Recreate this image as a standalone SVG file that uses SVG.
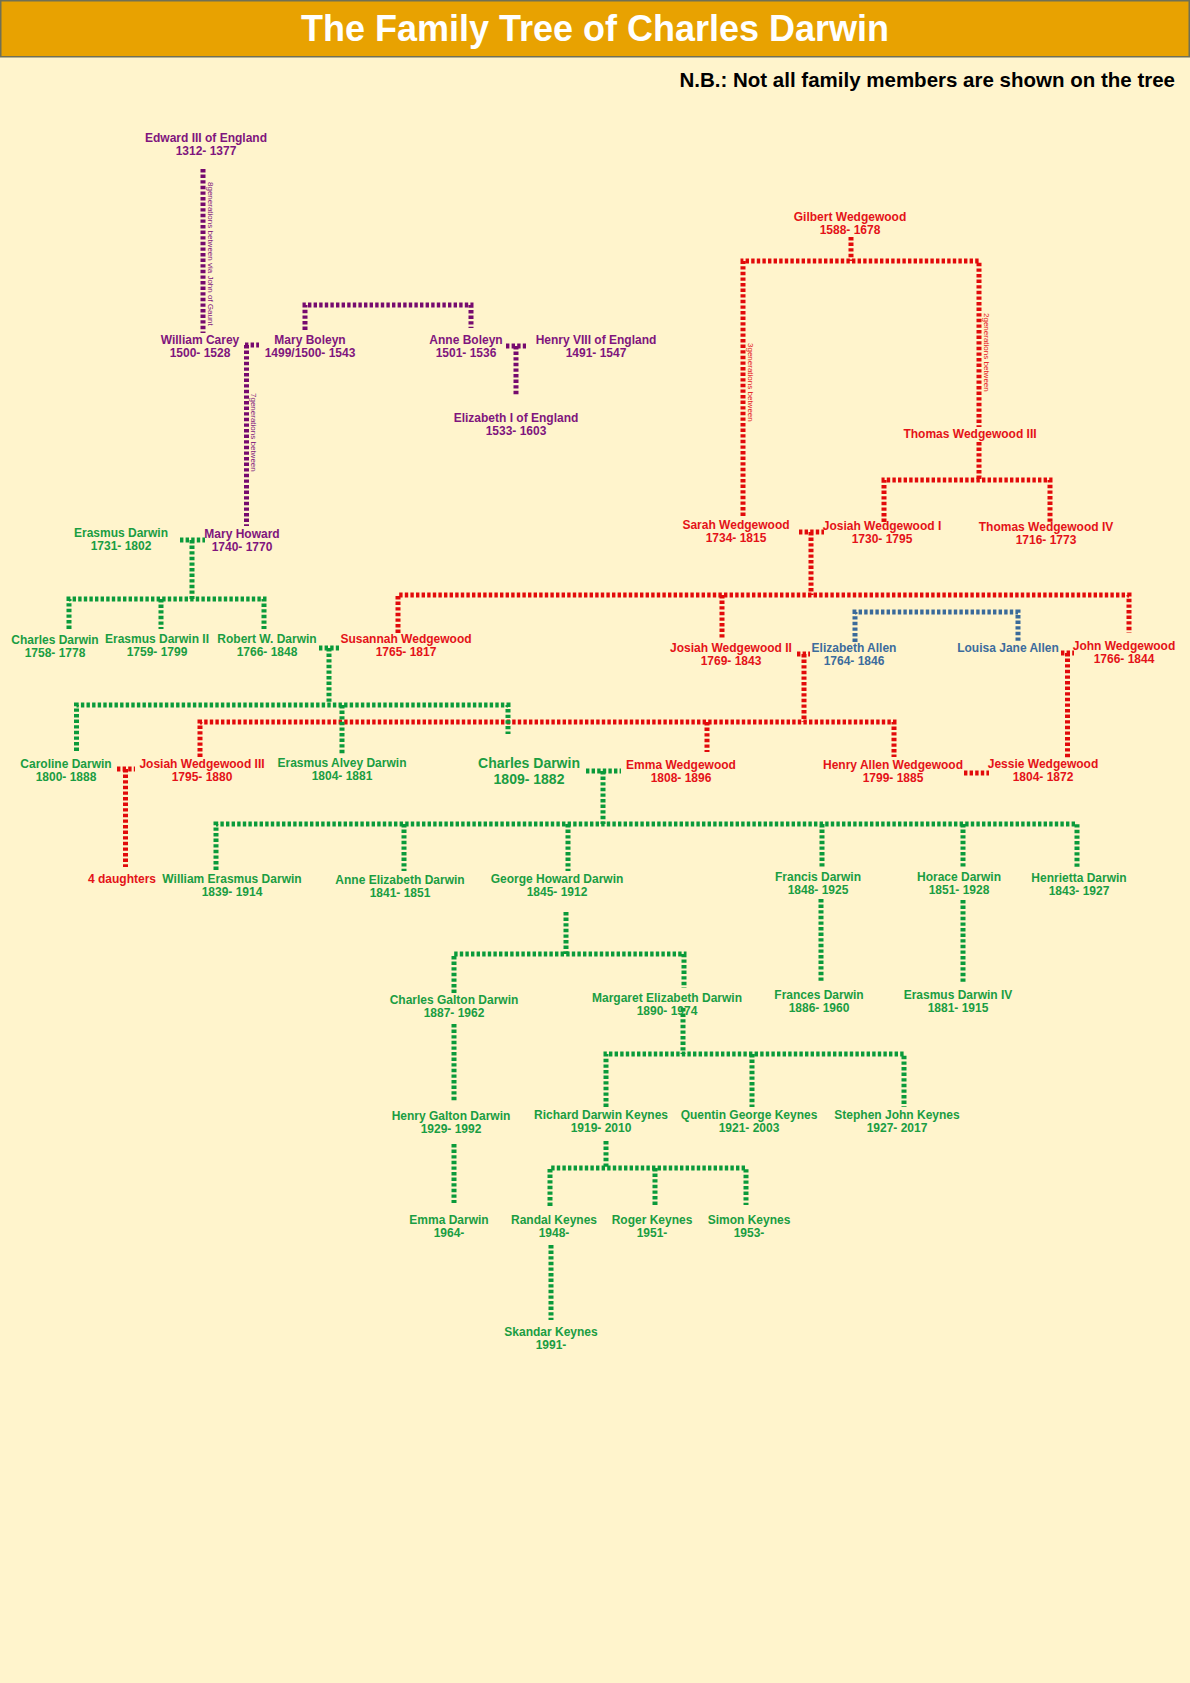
<svg xmlns="http://www.w3.org/2000/svg" width="1190" height="1683" viewBox="0 0 1190 1683">
<style>
.c{fill:none;stroke-width:5;stroke-dasharray:3.4 2.2}
.p{stroke:#760a6e}
.g{stroke:#0a9a3a}
.r{stroke:#e20a0a}
.b{stroke:#3a6a9a}
text{font-family:"Liberation Sans",Arial,sans-serif;font-weight:bold;font-size:12px;text-anchor:middle}
.tp{fill:#80157d}
.tg{fill:#1a9d42}
.tr{fill:#e41218}
.tb{fill:#3c6c9c}
.lab{font-weight:normal;font-size:8px;text-anchor:start}
.big{font-size:14px}
</style>
<rect x="0" y="0" width="1190" height="1683" fill="#fff4cc"/>
<g id="title">
<rect x="0.75" y="0.75" width="1188.5" height="56" fill="#e8a201" stroke="#707055" stroke-width="1.5"/>
<text x="595" y="41" style="font-size:36px;fill:#ffffff">The Family Tree of Charles Darwin</text>
</g>
<g id="note"><text x="1175" y="87" style="font-size:20.5px;fill:#000000;text-anchor:end">N.B.: Not all family members are shown on the tree</text></g>

<g id="connectors">
<path class="c r" d="M851 237V261"/>
<path class="c r" d="M743 516V261H979V427"/>
<path class="c r" d="M979 442V480"/>
<path class="c r" d="M884 522V480H1050V522"/>
<path class="c r" d="M799 532H824M811 532V595"/>
<path class="c r" d="M398 633V595H1129V633M722 595V638"/>
<path class="c r" d="M797 654H810M804 654V722"/>
<path class="c r" d="M200 757V722H894V757M707 722V752"/>
<path class="c r" d="M117 769H135M125.5 769V867"/>
<path class="c r" d="M1061 653H1074M1067.5 653V758"/>
<path class="c r" d="M964 773H989"/>
<path class="c b" d="M855 642V612H1018V642"/>
<path class="c p" d="M203 169V333"/>
<path class="c p" d="M245 345H259M246.5 345V526"/>
<path class="c p" d="M305 330V305H471V328"/>
<path class="c p" d="M506 346H526M516 346V396"/>
<path class="c g" d="M180 540H205M192 540V599"/>
<path class="c g" d="M69 629V599H264V629M161 599V629"/>
<path class="c g" d="M319 648H339M329 648V704"/>
<path class="c g" d="M76.5 751V705H508V734M342 705V754"/>
<path class="c g" d="M586 771H621M603 771V824"/>
<path class="c g" d="M216 870V824H1077V867M404 824V871M568 824V871M822 824V867M963 824V867"/>
<path class="c g" d="M566 912V954"/>
<path class="c g" d="M454 993V954H684V988"/>
<path class="c g" d="M454 1024V1101"/>
<path class="c g" d="M454 1144V1203"/>
<path class="c g" d="M683 1008V1054"/>
<path class="c g" d="M606 1107V1054H904V1107M752 1054V1107"/>
<path class="c g" d="M606 1141V1168"/>
<path class="c g" d="M550 1206V1168H746V1205M655 1168V1206"/>
<path class="c g" d="M551 1245V1320"/>
<path class="c g" d="M821 899V983"/>
<path class="c g" d="M963 900V983"/>
<text class="lab tp" transform="translate(207.5,182) rotate(90)">8generations between via John of Gaunt</text>
<text class="lab tp" transform="translate(251,393) rotate(90)">7generations between</text>
<text class="lab tr" transform="translate(748,343) rotate(90)">3generations between</text>
<text class="lab tr" transform="translate(983.5,313) rotate(90)">2generations between</text>
</g>

<g id="edward-iii"><text class="tp" x="206" y="142">Edward III of England<tspan x="206" dy="13">1312- 1377</tspan></text></g>
<g id="william-carey"><text class="tp" x="200" y="344">William Carey<tspan x="200" dy="13">1500- 1528</tspan></text></g>
<g id="mary-boleyn"><text class="tp" x="310" y="344">Mary Boleyn<tspan x="310" dy="13">1499/1500- 1543</tspan></text></g>
<g id="anne-boleyn"><text class="tp" x="466" y="344">Anne Boleyn<tspan x="466" dy="13">1501- 1536</tspan></text></g>
<g id="henry-viii"><text class="tp" x="596" y="344">Henry VIII of England<tspan x="596" dy="13">1491- 1547</tspan></text></g>
<g id="elizabeth-i"><text class="tp" x="516" y="422">Elizabeth I of England<tspan x="516" dy="13">1533- 1603</tspan></text></g>
<g id="mary-howard"><text class="tp" x="242" y="538">Mary Howard<tspan x="242" dy="13">1740- 1770</tspan></text></g>

<g id="gilbert-wedgewood"><text class="tr" x="850" y="221">Gilbert Wedgewood<tspan x="850" dy="13">1588- 1678</tspan></text></g>
<g id="thomas-wedgewood-iii"><text class="tr" x="970" y="438">Thomas Wedgewood III</text></g>
<g id="sarah-wedgewood"><text class="tr" x="736" y="529">Sarah Wedgewood<tspan x="736" dy="13">1734- 1815</tspan></text></g>
<g id="josiah-wedgewood-i"><text class="tr" x="882" y="530">Josiah Wedgewood I<tspan x="882" dy="13">1730- 1795</tspan></text></g>
<g id="thomas-wedgewood-iv"><text class="tr" x="1046" y="531">Thomas Wedgewood IV<tspan x="1046" dy="13">1716- 1773</tspan></text></g>
<g id="susannah-wedgewood"><text class="tr" x="406" y="643">Susannah Wedgewood<tspan x="406" dy="13">1765- 1817</tspan></text></g>
<g id="josiah-wedgewood-ii"><text class="tr" x="731" y="652">Josiah Wedgewood II<tspan x="731" dy="13">1769- 1843</tspan></text></g>
<g id="john-wedgewood"><text class="tr" x="1124" y="650">John Wedgewood<tspan x="1124" dy="13">1766- 1844</tspan></text></g>
<g id="josiah-wedgewood-iii"><text class="tr" x="202" y="768">Josiah Wedgewood III<tspan x="202" dy="13">1795- 1880</tspan></text></g>
<g id="emma-wedgewood"><text class="tr" x="681" y="769">Emma Wedgewood<tspan x="681" dy="13">1808- 1896</tspan></text></g>
<g id="henry-allen-wedgewood"><text class="tr" x="893" y="769">Henry Allen Wedgewood<tspan x="893" dy="13">1799- 1885</tspan></text></g>
<g id="jessie-wedgewood"><text class="tr" x="1043" y="768">Jessie Wedgewood<tspan x="1043" dy="13">1804- 1872</tspan></text></g>
<g id="four-daughters"><text class="tr" x="122" y="883">4 daughters</text></g>

<g id="elizabeth-allen"><text class="tb" x="854" y="652">Elizabeth Allen<tspan x="854" dy="13">1764- 1846</tspan></text></g>
<g id="louisa-jane-allen"><text class="tb" x="1008" y="652">Louisa Jane Allen</text></g>

<g id="erasmus-darwin"><text class="tg" x="121" y="537">Erasmus Darwin<tspan x="121" dy="13">1731- 1802</tspan></text></g>
<g id="charles-darwin-1758"><text class="tg" x="55" y="644">Charles Darwin<tspan x="55" dy="13">1758- 1778</tspan></text></g>
<g id="erasmus-darwin-ii"><text class="tg" x="157" y="643">Erasmus Darwin II<tspan x="157" dy="13">1759- 1799</tspan></text></g>
<g id="robert-darwin"><text class="tg" x="267" y="643">Robert W. Darwin<tspan x="267" dy="13">1766- 1848</tspan></text></g>
<g id="caroline-darwin"><text class="tg" x="66" y="768">Caroline Darwin<tspan x="66" dy="13">1800- 1888</tspan></text></g>
<g id="erasmus-alvey-darwin"><text class="tg" x="342" y="767">Erasmus Alvey Darwin<tspan x="342" dy="13">1804- 1881</tspan></text></g>
<g id="charles-darwin"><text class="tg big" x="529" y="768">Charles Darwin<tspan x="529" dy="16">1809- 1882</tspan></text></g>
<g id="william-erasmus-darwin"><text class="tg" x="232" y="883">William Erasmus Darwin<tspan x="232" dy="13">1839- 1914</tspan></text></g>
<g id="anne-elizabeth-darwin"><text class="tg" x="400" y="884">Anne Elizabeth Darwin<tspan x="400" dy="13">1841- 1851</tspan></text></g>
<g id="george-howard-darwin"><text class="tg" x="557" y="883">George Howard Darwin<tspan x="557" dy="13">1845- 1912</tspan></text></g>
<g id="francis-darwin"><text class="tg" x="818" y="881">Francis Darwin<tspan x="818" dy="13">1848- 1925</tspan></text></g>
<g id="horace-darwin"><text class="tg" x="959" y="881">Horace Darwin<tspan x="959" dy="13">1851- 1928</tspan></text></g>
<g id="henrietta-darwin"><text class="tg" x="1079" y="882">Henrietta Darwin<tspan x="1079" dy="13">1843- 1927</tspan></text></g>
<g id="charles-galton-darwin"><text class="tg" x="454" y="1004">Charles Galton Darwin<tspan x="454" dy="13">1887- 1962</tspan></text></g>
<g id="margaret-elizabeth-darwin"><text class="tg" x="667" y="1002">Margaret Elizabeth Darwin<tspan x="667" dy="13">1890- 1974</tspan></text></g>
<g id="frances-darwin"><text class="tg" x="819" y="999">Frances Darwin<tspan x="819" dy="13">1886- 1960</tspan></text></g>
<g id="erasmus-darwin-iv"><text class="tg" x="958" y="999">Erasmus Darwin IV<tspan x="958" dy="13">1881- 1915</tspan></text></g>
<g id="henry-galton-darwin"><text class="tg" x="451" y="1120">Henry Galton Darwin<tspan x="451" dy="13">1929- 1992</tspan></text></g>
<g id="richard-darwin-keynes"><text class="tg" x="601" y="1119">Richard Darwin Keynes<tspan x="601" dy="13">1919- 2010</tspan></text></g>
<g id="quentin-george-keynes"><text class="tg" x="749" y="1119">Quentin George Keynes<tspan x="749" dy="13">1921- 2003</tspan></text></g>
<g id="stephen-john-keynes"><text class="tg" x="897" y="1119">Stephen John Keynes<tspan x="897" dy="13">1927- 2017</tspan></text></g>
<g id="emma-darwin"><text class="tg" x="449" y="1224">Emma Darwin<tspan x="449" dy="13">1964-</tspan></text></g>
<g id="randal-keynes"><text class="tg" x="554" y="1224">Randal Keynes<tspan x="554" dy="13">1948-</tspan></text></g>
<g id="roger-keynes"><text class="tg" x="652" y="1224">Roger Keynes<tspan x="652" dy="13">1951-</tspan></text></g>
<g id="simon-keynes"><text class="tg" x="749" y="1224">Simon Keynes<tspan x="749" dy="13">1953-</tspan></text></g>
<g id="skandar-keynes"><text class="tg" x="551" y="1336">Skandar Keynes<tspan x="551" dy="13">1991-</tspan></text></g>
</svg>
